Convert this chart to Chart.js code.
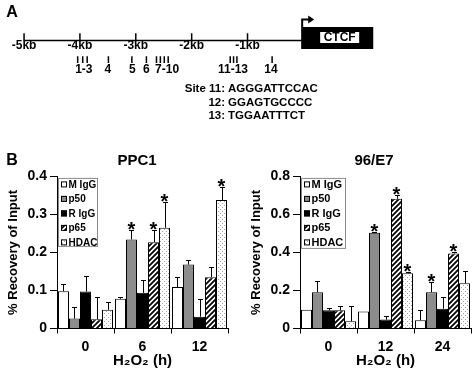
<!DOCTYPE html>
<html><head><meta charset="utf-8">
<script src="https://cdn.jsdelivr.net/npm/chart.js@4.4.1/dist/chart.umd.min.js"></script>
<style>
body{margin:0;background:#fff;width:474px;height:373px;position:relative;overflow:hidden;font-family:"Liberation Sans",Arial,sans-serif;font-weight:bold;color:#000}
canvas{position:absolute}
.t{position:absolute;font-size:15px;line-height:15px;transform:translate(-50%,-50%);white-space:nowrap}
</style></head><body>
<canvas id="diagram" width="474" height="150" style="left:0px;top:0px"></canvas>
<canvas id="ppc1" width="240" height="208" style="left:0px;top:165px"></canvas>
<canvas id="e7" width="231" height="208" style="left:243px;top:165px"></canvas>
<div class="t" style="left:12px;top:11px;font-size:16px">A</div>
<div class="t" style="left:12px;top:159px;font-size:16px">B</div>
<div class="t" style="left:137px;top:159px">PPC1</div>
<div class="t" style="left:374px;top:159px">96/E7</div>
<script>
// panel A: promoter map (kb upstream of CTCF)
const kbTicks = [-5, -4, -3, -2, -1];
const siteKb = [-4.04, -3.95, -3.87, -3.49, -3.07, -2.81, -2.63, -2.56, -2.49, -2.42, -1.31, -1.25, -1.19, -0.56];
const siteGroups = ['1-3', '4', '5', '6', '7-10', '11-13', '14'];
const siteGroupKb = [-3.93, -3.50, -3.06, -2.81, -2.44, -1.26, -0.58];
const seqNames = ['Site 11:', '12:', '13:'];
const seqs = ['AGGGATTCCAC', 'GGAGTGCCCC', 'TGGAATTTCT'];

// panel B
const series = ['M IgG', 'p50', 'R IgG', 'p65', 'HDAC'];
const hoursPPC1 = ['0', '6', '12'];
const hoursE7 = ['0', '12', '24'];

const ppc1Vals = [
  [0.098, 0.078, 0.109],
  [0.026, 0.234, 0.168],
  [0.097, 0.094, 0.031],
  [0.024, 0.227, 0.135],
  [0.049, 0.265, 0.338]
];
const ppc1Errs = [
  [0.018, 0.006, 0.027],
  [0.031, 0.024, 0.013],
  [0.042, 0.034, 0.046],
  [0.059, 0.031, 0.028],
  [0.021, 0.067, 0.033]
];
const ppc1Stars = [[0,0,0],[0,1,0],[0,0,0],[0,1,0],[0,1,1]];

const e7Vals = [
  [0.099, 0.090, 0.043],
  [0.191, 0.503, 0.191],
  [0.096, 0.047, 0.104],
  [0.096, 0.682, 0.395],
  [0.038, 0.290, 0.238]
];
const e7Errs = [
  [0, 0, 0.053],
  [0.061, 0.005, 0.052],
  [0.012, 0.017, 0.061],
  [0.021, 0.022, 0.005],
  [0.082, 0.007, 0.062]
];
const e7Stars = [[0,0,0],[0,1,1],[0,0,0],[0,1,1],[0,1,0]];

Chart.defaults.font.family = '"Liberation Sans", Arial, sans-serif';
Chart.defaults.font.weight = 'bold';
Chart.defaults.color = '#000';

function hatch() {
  const c = document.createElement('canvas');
  c.width = c.height = 5;
  const g = c.getContext('2d');
  g.fillStyle = '#fff'; g.fillRect(0, 0, 5, 5);
  g.strokeStyle = '#000'; g.lineWidth = 1.8;
  g.beginPath();
  g.moveTo(-1, 6); g.lineTo(6, -1);
  g.moveTo(-1, 1); g.lineTo(1, -1);
  g.moveTo(4, 6); g.lineTo(6, 4);
  g.stroke();
  return g.createPattern(c, 'repeat');
}
function dots() {
  const c = document.createElement('canvas');
  c.width = c.height = 4;
  const g = c.getContext('2d');
  g.fillStyle = '#fff'; g.fillRect(0, 0, 4, 4);
  g.fillStyle = '#a0a0a0';
  g.fillRect(0, 0, 1, 1); g.fillRect(2, 2, 1, 1);
  return g.createPattern(c, 'repeat');
}
const fills = ['#fff', '#8c8c8c', '#000', hatch(), dots()];

const diagramPlugin = {
  id: 'diagram',
  afterDraw(chart) {
    const ctx = chart.ctx, x = chart.scales.x;
    ctx.save();
    ctx.fillStyle = '#000';
    ctx.textAlign = 'center'; ctx.textBaseline = 'middle';
    ctx.font = 'bold 12px "Liberation Sans", Arial';
    kbTicks.forEach(k => ctx.fillText(k + 'kb', x.getPixelForValue(k), 46));
    siteGroups.forEach((s, i) => ctx.fillText(s, x.getPixelForValue(siteGroupKb[i]), 70));
    // gene box
    const g0 = x.getPixelForValue(-0.04), g1 = x.getPixelForValue(1.25);
    ctx.fillRect(g0, 27, g1 - g0, 22);
    ctx.fillStyle = '#fff';
    ctx.fillRect(g0 + 19, 32, 39, 11);
    ctx.fillStyle = '#000';
    ctx.fillText('CTCF', g0 + 38.5, 38);
    // TSS arrow
    ctx.lineWidth = 2; ctx.strokeStyle = '#000';
    ctx.beginPath();
    ctx.moveTo(g0 + 1, 27); ctx.lineTo(g0 + 1, 19.5); ctx.lineTo(g0 + 8, 19.5);
    ctx.stroke();
    ctx.beginPath();
    ctx.moveTo(g0 + 13, 19.5); ctx.lineTo(g0 + 7, 15.5); ctx.lineTo(g0 + 7, 23.5);
    ctx.closePath(); ctx.fill();
    // binding sequences
    ctx.font = 'bold 11.5px "Liberation Sans", Arial';
    const colon = 222;
    const rows = [89, 102.5, 116];
    seqNames.forEach((n, i) => {
      ctx.textAlign = 'right'; ctx.fillText(n, colon + 3, rows[i]);
      ctx.textAlign = 'left'; ctx.fillText(seqs[i], colon + 6, rows[i]);
    });
    ctx.restore();
  }
};

new Chart(document.getElementById('diagram'), {
  type: 'scatter',
  data: {
    datasets: [
      {type: 'line', data: [{x: -5, y: 37.7}, {x: 0, y: 37.7}], borderColor: '#000', borderWidth: 1.5, pointRadius: 0},
      {data: kbTicks.map(k => ({x: k, y: 34})), pointStyle: 'line', rotation: 90, pointRadius: 3.7, borderColor: '#000', borderWidth: 1.5},
      {data: siteKb.map(k => ({x: k, y: 58.4})), pointStyle: 'line', rotation: 90, pointRadius: 3.3, borderColor: '#000', borderWidth: 1.5}
    ]
  },
  options: {
    responsive: false, animation: false, events: [],
    layout: {padding: 0},
    plugins: {legend: {display: false}, tooltip: {enabled: false}},
    scales: {
      x: {type: 'linear', min: -5.332, max: 2.955, display: false},
      y: {min: 0, max: 150, reverse: true, display: false}
    }
  },
  plugins: [diagramPlugin]
});

const errorPlugin = {
  id: 'errs',
  afterDatasetsDraw(chart) {
    const ctx = chart.ctx, y = chart.scales.y;
    ctx.save();
    ctx.strokeStyle = '#000'; ctx.fillStyle = '#000'; ctx.lineWidth = 1;
    ctx.textAlign = 'center'; ctx.textBaseline = 'alphabetic';
    ctx.font = 'bold 20px "Liberation Sans", Arial';
    chart.data.datasets.forEach((ds, i) => {
      chart.getDatasetMeta(i).data.forEach((bar, j) => {
        const e = ds.errs[j];
        const top = y.getPixelForValue(ds.data[j] + e);
        const bx = Math.round(bar.x) + 0.5;
        if (e > 0) {
          ctx.beginPath();
          ctx.moveTo(bx, bar.y); ctx.lineTo(bx, Math.round(top) + 0.5);
          ctx.moveTo(bx - 2.5, Math.round(top) + 0.5); ctx.lineTo(bx + 2.5, Math.round(top) + 0.5);
          ctx.stroke();
        }
        if (ds.stars[j]) ctx.fillText('*', bar.x, top + 6);
      });
    });
    ctx.restore();
  }
};

const legendPlugin = {
  id: 'boxLegend',
  afterDraw(chart) {
    const o = chart.options.plugins.boxLegend;
    const ctx = chart.ctx, a = chart.chartArea;
    const left = a.left + 1, top = a.top + 1.5;
    ctx.save();
    ctx.fillStyle = '#fff'; ctx.strokeStyle = '#8a8a8a'; ctx.lineWidth = 1;
    ctx.fillRect(left, top, o.width, o.height);
    ctx.strokeRect(left + 0.5, top + 0.5, o.width, o.height);
    ctx.font = 'bold ' + o.font + 'px "Liberation Sans", Arial';
    ctx.textBaseline = 'middle'; ctx.textAlign = 'left';
    chart.data.datasets.forEach((ds, i) => {
      const cy = top + 6.5 + i * 14.5;
      ctx.fillStyle = ds.backgroundColor;
      ctx.fillRect(left + 3, cy - 3, 6, 6);
      ctx.strokeStyle = '#000';
      ctx.strokeRect(left + 3.5, cy - 2.5, 5, 5);
      ctx.fillStyle = '#000';
      ctx.fillText(ds.label, left + 10.5, cy + 0.5);
    });
    ctx.restore();
  }
};

function barChart(id, hours, vals, errs, stars, yMax, yStep, padRight, legend) {
  return new Chart(document.getElementById(id), {
    type: 'bar',
    data: {
      labels: hours,
      datasets: series.map((name, i) => ({
        label: name, data: vals[i], errs: errs[i], stars: stars[i],
        backgroundColor: fills[i], borderColor: '#000', borderWidth: 1,
        categoryPercentage: 0.965, barPercentage: 1
      }))
    },
    options: {
      responsive: false, animation: false, events: [],
      layout: {padding: {top: 10, right: padRight, left: 0, bottom: 0}},
      plugins: {legend: {display: false}, tooltip: {enabled: false}, boxLegend: legend},
      scales: {
        x: {
          grid: {display: true, drawOnChartArea: false, drawTicks: true, tickLength: 5, color: '#000', offset: true},
          border: {display: true, color: '#000', width: 1},
          ticks: {font: {size: 14, weight: 'bold'}, padding: 5, color: '#000'},
          title: {display: true, text: 'H\u2082O\u2082 (h)', font: {size: 15, weight: 'bold'}, padding: {top: 0, bottom: 3}, color: '#000'},
          afterFit: s => { s.height = 44.5; }
        },
        y: {
          min: 0, max: yMax,
          grid: {display: true, drawOnChartArea: false, drawTicks: true, tickLength: 7, color: '#000'},
          border: {display: true, color: '#000', width: 1},
          ticks: {stepSize: yStep, font: {size: 14, weight: 'bold'}, padding: 3, color: '#000',
                  callback: v => v === 0 ? '0' : v.toFixed(1)},
          title: {display: true, text: '% Recovery of Input', font: {size: 13, weight: 'bold'}, padding: {top: 6, bottom: 0}, color: '#000'},
          afterFit: s => { s.width = 57; }
        }
      }
    },
    plugins: [errorPlugin, legendPlugin]
  });
}

barChart('ppc1', hoursPPC1, ppc1Vals, ppc1Errs, ppc1Stars, 0.4, 0.1, 12, {width: 39, height: 68, font: 10});
barChart('e7', hoursE7, e7Vals, e7Errs, e7Stars, 0.8, 0.2, 3, {width: 44, height: 70, font: 11});
</script>
</body></html>
